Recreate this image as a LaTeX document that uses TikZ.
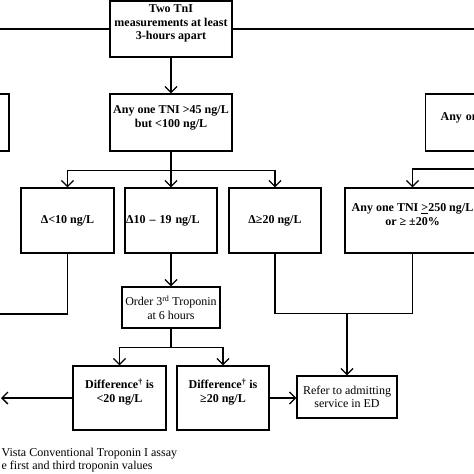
\documentclass[tikz,border=0pt]{standalone}
\usepackage{fontspec}
\setmainfont{Liberation Serif}
\usetikzlibrary{calc,positioning,arrows.meta}
\tikzset{bx/.style={draw,rectangle,align=center,inner sep=1pt,
font=\fontsize{12}{13.5}\selectfont\bfseries},nb/.style={bx,
font=\fontsize{12}{13.5}\selectfont},ar/.style={-{Straight Barb[length=6pt,width=12pt]}}}

\begin{document}
\begin{tikzpicture}[x=1pt,y=-1pt,line width=1.3pt]
		\useasboundingbox (0,0) rectangle (474,474);
		\clip (0,0) rectangle (474,474);
		% first and second row
		\node[bx,minimum width=122pt,minimum height=56pt,text depth=13.1pt] (two) at (171,29) {Two TnI\\ measurements at least\\ 3-hours apart};
		\node[bx,minimum width=122pt,minimum height=57pt,text depth=11.6pt] (any45) at (171,122.5) {Any one TNI >45 ng/L\\ but <100 ng/L};
		\node[bx,minimum width=120pt,minimum height=57pt] (lft) at (-51,122.5) {};
		\node[bx,anchor=west,minimum height=57pt,text width=110pt,align=left,inner xsep=15pt,text depth=11.6pt] (rgt) at (425,122.5) {Any one};
		\coordinate (le) at (-5,29);
		\coordinate (re) at (480,29);
		\draw (le) -- (two.west);
		\draw (two.east) -- (re);
		\draw[ar] (two) -- (any45);
		% third row
		\node[bx,minimum width=93pt,minimum height=65pt] (aa) at (67.5,220.5) {Δ<10 ng/L};
		\node[bx,minimum width=92pt,minimum height=65pt,text width=90pt,align=left] (bb) at (171,220.5) {Δ10 – 19 ng/L};
		\node[bx,minimum width=92pt,minimum height=65pt] (cc) at (275,220.5) {Δ≥20 ng/L};
		\node[bx,minimum width=135pt,minimum height=65pt,text depth=11.6pt] (dd) at (412.5,220.5) {Any one TNI \underline{>}250 ng/L\\ or ≥ ±20\%};
		\draw (any45.south) -- ++(0,19) coordinate (s1);
		\draw[ar] (s1) -| (aa);
		\draw[ar] (s1) -- (bb);
		\draw[ar] (s1) -| (cc);
		\coordinate (dr) at (480,169);
		\draw[ar] (dr) -| (dd);
		% lower part
		\node[nb,minimum width=98pt,minimum height=41pt] (ord) at (171,307.5) {Order 3\textsuperscript{rd} Troponin\\ at 6 hours};
		\node[bx,minimum width=93pt,minimum height=64pt,text depth=14.6pt] (d1) at (119.5,398) {Difference\textsuperscript{†} is\\ <20 ng/L};
		\node[bx,minimum width=92pt,minimum height=64pt,text depth=14.6pt] (d2) at (223,398) {Difference\textsuperscript{†} is\\ ≥20 ng/L};
		\node[nb,minimum width=100pt,minimum height=42pt] (ref) at (347,397) {Refer to admitting\\ service in ED};
		\coordinate (al) at (-5,314);
		\draw (aa.south) |- (al);
		\path (ref.north) ++(0,-62) coordinate (j);
		\draw (cc.south) |- (j) -| (dd.south);
		\draw[ar] (j) -- (ref);
		\draw[ar] (bb) -- (ord);
		\draw (ord.south) -- ++(0,19) coordinate (s2);
		\draw[ar] (s2) -| (d1);
		\draw[ar] (s2) -| (d2);
		\coordinate (dl) at (1,398);
		\draw[ar] (d1.west) -- (dl);
		\draw[ar] (d2.east) -- (d2.east -| ref.west);
		% footnote
		\node[anchor=west,inner sep=0pt,align=left,font=\fontsize{12}{12.9}\selectfont] (fn) at (1,460.5) {Vista Conventional Troponin I assay\\e first and third troponin values};
	\end{tikzpicture}
\end{document}
